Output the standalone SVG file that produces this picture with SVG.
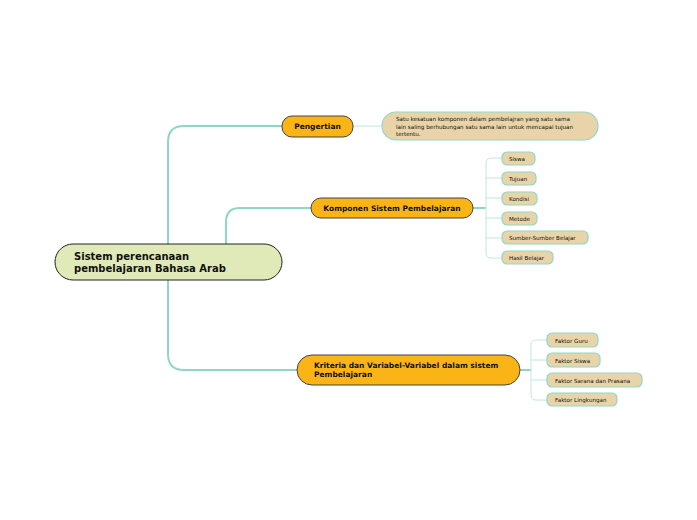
<svg xmlns="http://www.w3.org/2000/svg" width="697" height="520" viewBox="0 0 697 520">
<style>
text{font-family:"DejaVu Sans","Liberation Sans",sans-serif;fill:#111}
.main{fill:#fbb416;stroke:#444;stroke-width:1}
.leaf{fill:#e8d4a8;stroke:#8fd8c8;stroke-width:1.2}
.b{font-weight:bold}
.c1{fill:none;stroke:#8fd6c6;stroke-width:2}
.c2{fill:none;stroke:#bfe8de;stroke-width:1}
</style>
<rect width="697" height="520" fill="#fff"/>
<g id="connectors">
<path class="c1" d="M168 262 V142 Q168 126 184 126 H282"/>
<path class="c1" d="M168 262 V354 Q168 370 184 370 H297"/>
<path class="c1" d="M226 244 V222 Q226 208 240 208 H311"/>
<path class="c2" d="M353 126 H382"/>
<path class="c1" d="M473 208 H486"/>
<path class="c2" d="M486 208 V163 Q486 158 491 158 H502 M486 178 H502 M486 198 H502 M486 218 H502 M486 238 H502 M486 208 V253 Q486 258 491 258 H502"/>
<path class="c1" d="M520 370 H531"/>
<path class="c2" d="M531 370 V345 Q531 340 536 340 H547 M531 360 H547 M531 380 H547 M531 370 V395 Q531 400 536 400 H547"/>
</g>
<g id="root"><rect x="55" y="244" width="227" height="36" rx="18" fill="#e0e9b8" stroke="#222"/>
<text class="b" x="74" y="260" font-size="10">Sistem perencanaan</text><text class="b" x="74" y="272" font-size="10">pembelajaran Bahasa Arab</text></g>
<g id="pengertian"><rect class="main" x="282" y="116" width="71" height="21" rx="10"/><text class="b" x="317.5" y="129" font-size="7.5" text-anchor="middle">Pengertian</text></g>
<g id="desc"><rect class="leaf" x="382" y="112" width="216" height="28" rx="14"/>
<text x="396" y="121" font-size="5.6">Satu kesatuan komponen dalam pembelajran yang satu sama</text>
<text x="396" y="128.5" font-size="5.6">lain saling berhubungan satu sama lain untuk mencapai tujuan</text>
<text x="396" y="136" font-size="5.6">tertentu.</text></g>
<g id="komponen"><rect class="main" x="311" y="198" width="162" height="20" rx="10"/><text class="b" x="392" y="211" font-size="7.5" text-anchor="middle">Komponen Sistem Pembelajaran</text></g>
<g id="siswa"><rect class="leaf" x="502" y="152" width="33" height="13" rx="5"/><text x="509" y="161" font-size="5.6">Siswa</text></g>
<g id="tujuan"><rect class="leaf" x="502" y="172" width="34" height="13" rx="5"/><text x="509" y="181" font-size="5.6">Tujuan</text></g>
<g id="kondisi"><rect class="leaf" x="502" y="192" width="35" height="13" rx="5"/><text x="509" y="201" font-size="5.6">Kondisi</text></g>
<g id="metode"><rect class="leaf" x="502" y="212" width="35" height="13" rx="5"/><text x="509" y="221" font-size="5.6">Metode</text></g>
<g id="sumber"><rect class="leaf" x="502" y="231" width="86" height="13" rx="5"/><text x="509" y="240" font-size="5.6">Sumber-Sumber Belajar</text></g>
<g id="hasil"><rect class="leaf" x="502" y="251" width="51" height="13" rx="5"/><text x="509" y="260" font-size="5.6">Hasil Belajar</text></g>
<g id="kriteria"><rect class="main" x="297" y="355" width="223" height="30" rx="15"/>
<text class="b" x="314" y="368" font-size="7.5">Kriteria dan Variabel-Variabel dalam sistem</text><text class="b" x="314" y="377" font-size="7.5">Pembelajaran</text></g>
<g id="guru"><rect class="leaf" x="547" y="333" width="51" height="14" rx="5"/><text x="555" y="342.5" font-size="5.6">Faktor Guru</text></g>
<g id="fsiswa"><rect class="leaf" x="547" y="353" width="53" height="14" rx="5"/><text x="555" y="362.5" font-size="5.6">Faktor Siswa</text></g>
<g id="sarana"><rect class="leaf" x="547" y="373" width="95" height="14" rx="5"/><text x="555" y="382.5" font-size="5.6">Faktor Sarana dan Prasana</text></g>
<g id="lingkungan"><rect class="leaf" x="547" y="393" width="70" height="13" rx="5"/><text x="555" y="402" font-size="5.6">Faktor Lingkungan</text></g>
</svg>
